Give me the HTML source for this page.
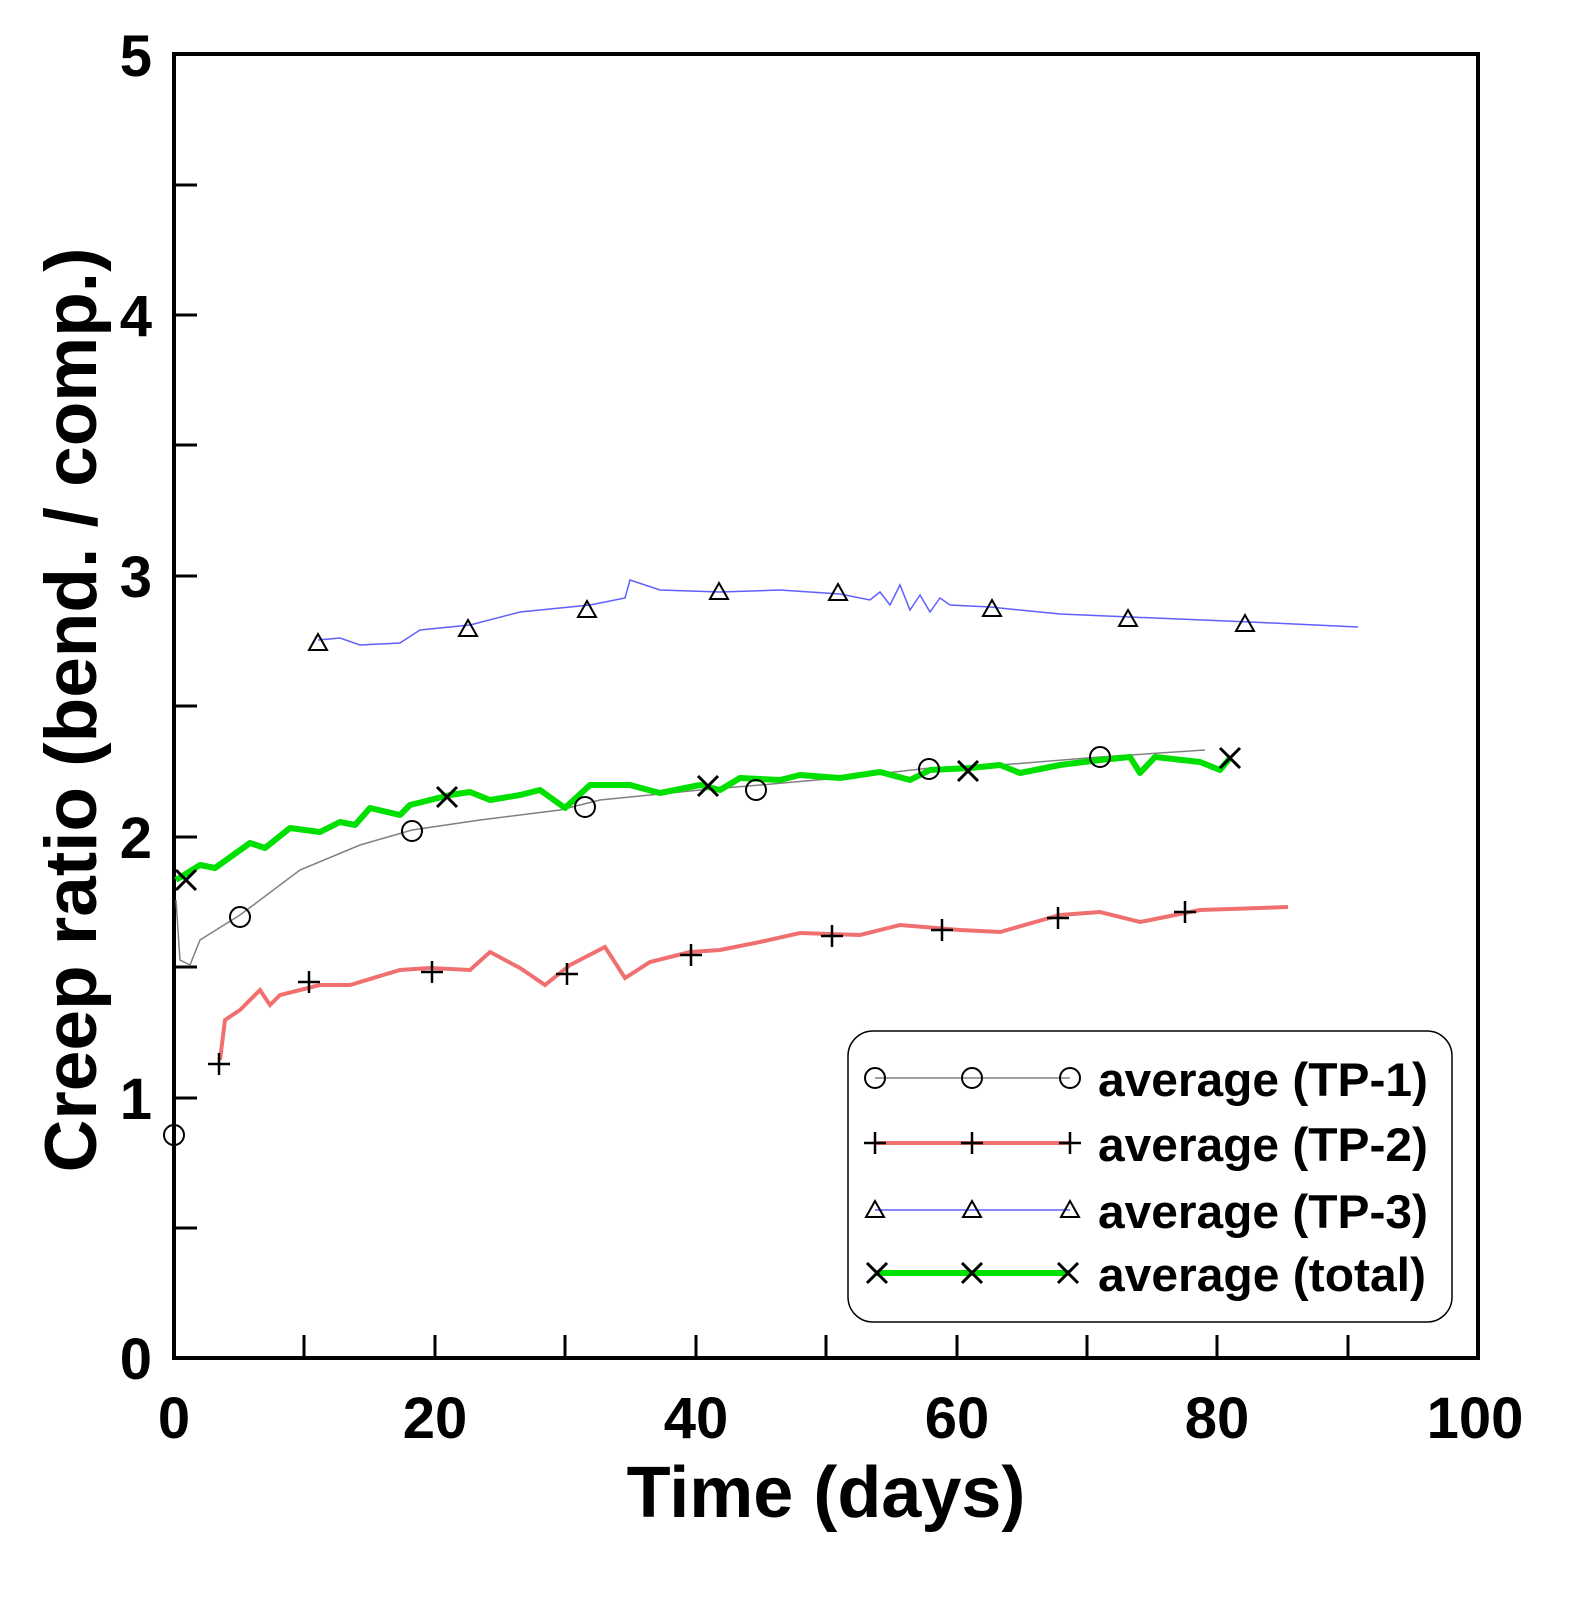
<!DOCTYPE html>
<html><head><meta charset="utf-8"><style>
html,body{margin:0;padding:0;background:#fff}
svg{display:block}
text{font-family:"Liberation Sans",Arial,sans-serif;font-weight:bold;fill:#000}
</style></head><body>
<svg width="1574" height="1597" viewBox="0 0 1574 1597" xmlns="http://www.w3.org/2000/svg">
<defs>
<g id="circ"><circle r="10" fill="none" stroke="#000" stroke-width="2"/></g>
<g id="plus"><path d="M-11 0H11M0 -11V11" stroke="#000" stroke-width="2.5"/></g>
<g id="tri"><path d="M0 -9L9 7H-9Z" fill="none" stroke="#000" stroke-width="2"/></g>
<g id="xx"><path d="M-10 -10L10 10M-10 10L10 -10" stroke="#000" stroke-width="3"/></g>
</defs>
<g stroke="#000" stroke-width="3">
<path d="M174 1228H197M174 1098H197M174 967H197M174 837H197M174 706H197M174 576H197M174 445H197M174 315H197M174 185H197"/>
<path d="M304 1358V1335M435 1358V1335M565 1358V1335M696 1358V1335M826 1358V1335M957 1358V1335M1087 1358V1335M1217 1358V1335M1348 1358V1335"/>
</g>
<rect x="174" y="54" width="1304" height="1304" fill="none" stroke="#000" stroke-width="4"/>
<g font-size="58" text-anchor="end">
<text x="152" y="1379">0</text><text x="152" y="1119">1</text><text x="152" y="858">2</text>
<text x="152" y="597">3</text><text x="152" y="336">4</text><text x="152" y="76">5</text>
</g>
<g font-size="58" text-anchor="middle">
<text x="174" y="1438">0</text><text x="435" y="1438">20</text><text x="696" y="1438">40</text>
<text x="957" y="1438">60</text><text x="1217" y="1438">80</text><text x="1475" y="1438">100</text>
</g>
<text x="826" y="1517" font-size="72" text-anchor="middle">Time (days)</text>
<text transform="translate(96,710) rotate(-90)" font-size="73" text-anchor="middle">Creep ratio (bend. / comp.)</text>

<polyline fill="none" stroke="#6060ff" stroke-width="1.5" points="318,640 340,638 360,645 400,643 420,630 470,625 520,612 560,608 590,605 625,598 630,580 660,590 720,592 780,590 840,594 870,600 880,592 890,605 900,585 910,610 920,595 930,612 940,598 950,605 990,607 1060,614 1130,617 1250,622 1358,627"/>
<polyline fill="none" stroke="#808080" stroke-width="1.5" points="176,900 180,960 190,965 200,940 240,915 300,870 360,845 412,830 480,820 560,810 600,800 700,790 760,785 850,777 930,768 1000,765 1100,757 1205,750"/>
<polyline fill="none" stroke="#f07070" stroke-width="4" points="220,1060 225,1020 240,1010 260,990 270,1005 280,995 300,990 320,985 350,985 400,970 430,968 470,970 490,952 520,968 545,985 570,965 605,947 625,978 650,962 690,952 720,950 760,942 800,933 860,935 900,925 960,930 1000,932 1060,915 1100,912 1140,922 1200,910 1288,907"/>
<polyline fill="none" stroke="#00e000" stroke-width="6" stroke-linejoin="round" points="176,880 200,865 215,868 250,843 265,848 290,828 320,832 340,822 355,825 370,808 400,815 410,805 430,800 450,795 470,792 490,800 520,795 540,790 565,808 590,785 630,785 660,793 700,785 720,790 740,778 780,780 800,775 840,778 880,772 910,780 930,770 970,768 1000,765 1020,773 1060,765 1100,760 1130,757 1140,773 1155,757 1200,762 1220,770 1230,758"/>
<use href="#tri" x="318" y="643"/><use href="#tri" x="468" y="629"/><use href="#tri" x="587" y="610"/><use href="#tri" x="719" y="592"/><use href="#tri" x="838" y="593"/><use href="#tri" x="992" y="609"/><use href="#tri" x="1128" y="619"/><use href="#tri" x="1245" y="624"/>
<use href="#circ" x="174" y="1135"/><use href="#circ" x="240" y="917"/><use href="#circ" x="412" y="831"/><use href="#circ" x="585" y="807"/><use href="#circ" x="756" y="790"/><use href="#circ" x="929" y="769"/><use href="#circ" x="1100" y="757"/>
<use href="#plus" x="219" y="1064"/><use href="#plus" x="309" y="982"/><use href="#plus" x="432" y="972"/><use href="#plus" x="567" y="974"/><use href="#plus" x="691" y="955"/><use href="#plus" x="832" y="936"/><use href="#plus" x="942" y="930"/><use href="#plus" x="1058" y="918"/><use href="#plus" x="1185" y="912"/>
<use href="#xx" x="186" y="880"/><use href="#xx" x="447" y="797"/><use href="#xx" x="708" y="786"/><use href="#xx" x="968" y="771"/><use href="#xx" x="1230" y="758"/>
<rect x="848" y="1031" width="604" height="291" rx="25" fill="#fff" stroke="#000" stroke-width="1.5"/>
<line x1="875" y1="1078" x2="1070" y2="1078" stroke="#808080" stroke-width="1.5"/>
<use href="#circ" x="875" y="1078"/><use href="#circ" x="972" y="1078"/><use href="#circ" x="1070" y="1078"/>
<line x1="875" y1="1143" x2="1070" y2="1143" stroke="#f07070" stroke-width="4"/>
<use href="#plus" x="875" y="1143"/><use href="#plus" x="972" y="1143"/><use href="#plus" x="1070" y="1143"/>
<line x1="875" y1="1210" x2="1070" y2="1210" stroke="#6060ff" stroke-width="1.5"/>
<use href="#tri" x="875" y="1210"/><use href="#tri" x="972" y="1210"/><use href="#tri" x="1070" y="1210"/>
<line x1="875" y1="1273" x2="1070" y2="1273" stroke="#00e000" stroke-width="6"/>
<use href="#xx" x="877" y="1273"/><use href="#xx" x="972" y="1273"/><use href="#xx" x="1068" y="1273"/>
<g font-size="47">
<text x="1098" y="1096" textLength="330" lengthAdjust="spacingAndGlyphs">average (TP-1)</text>
<text x="1098" y="1161" textLength="330" lengthAdjust="spacingAndGlyphs">average (TP-2)</text>
<text x="1098" y="1228" textLength="330" lengthAdjust="spacingAndGlyphs">average (TP-3)</text>
<text x="1098" y="1291" textLength="328" lengthAdjust="spacingAndGlyphs">average (total)</text>
</g>
</svg>
</body></html>
